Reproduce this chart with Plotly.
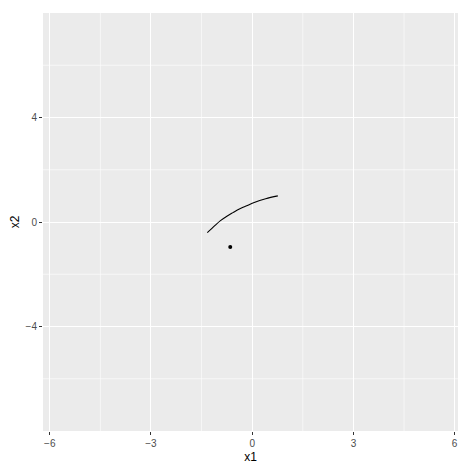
import plotly.graph_objects as go

# Data
curve_x1 = [-1.33, -1.1, -0.94, -0.75, -0.57, -0.38, -0.2, 0.08, 0.4, 0.76]
curve_x2 = [-0.41, -0.13, 0.05, 0.22, 0.36, 0.5, 0.6, 0.76, 0.89, 1.0]
point_x1 = [-0.65]
point_x2 = [-0.96]
x_ticks = [-6, -3, 0, 3, 6]
y_ticks = [-4, 0, 4]

fig = go.Figure()
fig.add_trace(go.Scatter(x=curve_x1, y=curve_x2, mode='lines',
                         line=dict(color='black', width=1.1, shape='spline', smoothing=1.0)))
fig.add_trace(go.Scatter(x=point_x1, y=point_x2, mode='markers', marker=dict(color='black', size=4)))

# minor gridlines as in ggplot
for v in [-4.5, -1.5, 1.5, 4.5]:
    fig.add_vline(x=v, line=dict(color='white', width=0.6), layer='below')
for v in [-6, -2, 2, 6]:
    fig.add_hline(y=v, line=dict(color='white', width=0.6), layer='below')

fig.update_layout(
    autosize=True, showlegend=False,
    paper_bgcolor='white', plot_bgcolor='#EBEBEB',
    margin=dict(l=31, r=8, t=5, b=35),
    font=dict(family='Arial, Liberation Sans', size=10, color='#4D4D4D'),
)
fig.update_xaxes(range=[-6.2, 6.1], tickvals=x_ticks, gridcolor='white', gridwidth=1.2, zeroline=False,
                 ticks='outside', ticklen=3, tickcolor='#333333', showline=False,
                 title=dict(text='x1', font=dict(size=12, color='black'), standoff=4))
fig.update_yaxes(range=[-8, 8], tickvals=y_ticks, gridcolor='white', gridwidth=1.2, zeroline=False,
                 ticks='outside', ticklen=3, tickcolor='#333333', showline=False,
                 title=dict(text='x2', font=dict(size=12, color='black'), standoff=4))

fig.write_html('out.html', config={'displayModeBar': False})
